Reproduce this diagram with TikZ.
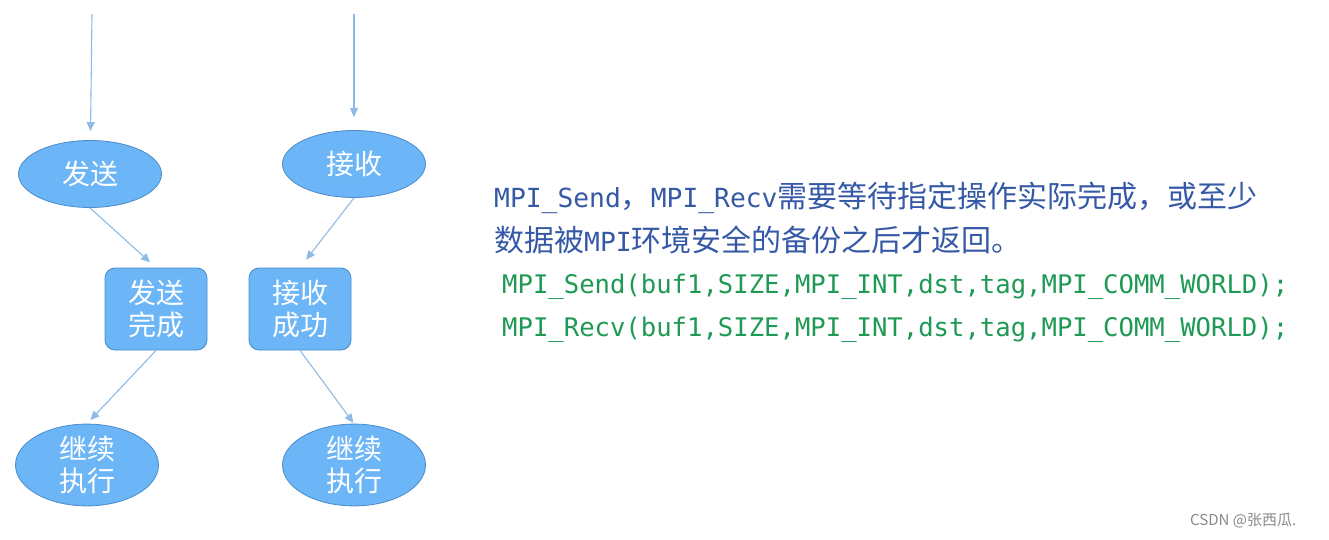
\documentclass[tikz,border=0pt]{standalone}
\usepackage{fontspec}
\setmainfont{Noto Sans CJK SC}
\setmonofont{DejaVu Sans Mono}
\newfontfamily\cjk{Noto Sans CJK SC}
\usetikzlibrary{arrows.meta,calc,shapes.geometric}
\definecolor{nodefill}{HTML}{6CB5F6}
\definecolor{nodeborder}{HTML}{4A8BCB}
\definecolor{flowline}{HTML}{8DBBE6}
\definecolor{notetext}{HTML}{3559A6}
\definecolor{codetext}{HTML}{1F9A55}
\definecolor{credittext}{HTML}{8A8A8A}
\newcommand{\mpitt}[1]{{\fontsize{26.3}{30}\ttfamily #1}}

\begin{document}
\begin{tikzpicture}[
  x=1pt, y=-1pt,
  >={Triangle[length=9pt,width=8pt]},
  label/.style={text=white, align=center, font=\cjk\fontsize{28}{32}\selectfont},
  oval/.style={ellipse, label, draw=nodeborder, line width=0.8pt, fill=nodefill, minimum width=143pt, minimum height=67pt, inner sep=0pt},
  stepbox/.style={rectangle, label, draw=nodeborder, line width=0.8pt, fill=nodefill, rounded corners=10pt, minimum width=102pt, minimum height=82pt, inner sep=0pt},
  flow/.style={->, draw=flowline, line width=1.1pt},
  desc/.style={anchor=west, inner sep=0pt, text=notetext, font=\cjk\fontsize{30}{36}\selectfont},
  code/.style={anchor=west, inner sep=0pt, text=codetext, font=\ttfamily\fontsize{25.6}{30}\selectfont},
  credit/.style={anchor=west, inner sep=0pt, text=credittext, font=\cjk\fontsize{15}{18}\selectfont}
]
\fill[white] (0,0) rectangle (1329,540);
\useasboundingbox (0,0) rectangle (1329,540);

% send side
\coordinate (sendin) at (92,14);
\node[oval] (send) at (90,174) {发送};
\node[stepbox] (sendok) at (156,309) {发送\\完成};
\node[oval] (sendgo) at (87,465) {继续\\执行};
\draw[flow, shorten >=9pt] (sendin) -- (send);
\draw[flow, shorten >=8pt] (send.south) -- (sendok.north);
\draw[flow, shorten >=5pt] (sendok.south) -- (sendgo.north);

% receive side
\coordinate (recvin) at (354,14);
\node[oval] (recv) at (354,164) {接收};
\node[stepbox] (recvok) at (300,309) {接收\\成功};
\node[oval] (recvgo) at (354,465) {继续\\执行};
\draw[flow, shorten >=13pt] (recvin) -- (recv);
\draw[flow, shorten >=10pt] (recv.south) -- (recvok.north);
\draw[flow, shorten >=1pt] (recvok.south) -- (recvgo.north);

% blocking note and calls
\node[desc] (line1) at (494,198) {\mpitt{MPI\_Send}，\mpitt{MPI\_Recv}需要等待指定操作实际完成，或至少};
\node[desc] (line2) at (494,240) {数据被\mpitt{MPI}环境安全的备份之后才返回。};
\node[code] (sendcall) at (502,287) {MPI\_Send(buf1,SIZE,MPI\_INT,dst,tag,MPI\_COMM\_WORLD);};
\node[code] (recvcall) at (502,330) {MPI\_Recv(buf1,SIZE,MPI\_INT,dst,tag,MPI\_COMM\_WORLD);};

\node[credit] (source) at (1190,521) {CSDN @张西瓜.};

\end{tikzpicture}
\end{document}
